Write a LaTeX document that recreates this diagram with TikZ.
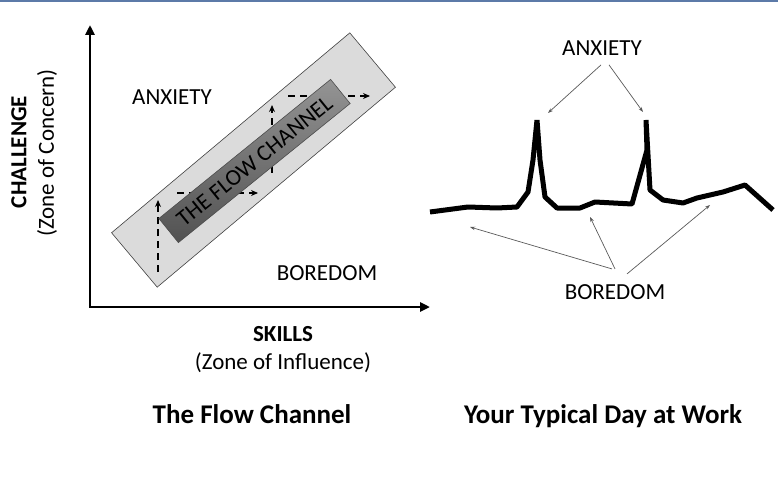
\documentclass[tikz,border=0pt]{standalone}
\usepackage{fontspec}
\setmainfont{Carlito}
\usetikzlibrary{arrows.meta}
\definecolor{topblue}{RGB}{92,122,168}
\definecolor{bandgray}{RGB}{219,219,219}

\begin{document}
\begin{tikzpicture}[x=1pt,y=-1pt,
  axisline/.style={line width=2.6pt,{Triangle[length=10pt,width=9pt]}-{Triangle[length=10pt,width=9pt]}},
  flow/.style={line width=1.9pt,dash pattern=on 7pt off 5pt,-{Stealth[length=7pt,width=6pt]}},
  txt/.style={font=\fontsize{23}{25}\selectfont},
  headtxt/.style={font=\bfseries\fontsize{23}{25}\selectfont},
  bigtxt/.style={font=\bfseries\fontsize{27}{29}\selectfont},
  pointer/.style={draw=black!65,line width=0.7pt,-{Stealth[length=5pt,width=3.5pt]}}]
\useasboundingbox (0,0) rectangle (778,489);
\fill[topblue] (0,0) rectangle (778,2);

\node[draw=black!75,fill=bandgray,line width=0.6pt,minimum width=311pt,minimum height=71pt,inner sep=0,rotate=40] (band) at (253.5,160) {};

\draw[flow] (158,272) -- (158,200);
\draw[flow] (177,193) -- (258,193);
\draw[flow] (272,173) -- (272,105);
\draw[flow] (288,96) -- (370,96);

\node[draw=black!70,top color=black!42,bottom color=black!68,line width=0.6pt,minimum width=221pt,minimum height=31pt,inner sep=0,rotate=39,txt] (channel) at (254.5,161) {THE FLOW CHANNEL};

\coordinate (O) at (90,307);
\coordinate (ytop) at (90,25);
\coordinate (xend) at (430,307);
\draw[axisline] (ytop) -- (O) -- (xend);

\node[txt] (anxL) at (172,97) {ANXIETY};
\node[txt] (borL) at (327,273) {BOREDOM};
\node[headtxt,rotate=90] (chal) at (19,152) {CHALLENGE};
\node[txt,rotate=90] (concern) at (47,153) {(Zone of Concern)};
\node[headtxt,anchor=base] (skills) at (283,341) {SKILLS};
\node[txt,anchor=base] (infl) at (283,369) {(Zone of Influence)};
\node[bigtxt,anchor=base] (flowtitle) at (252,423) {The Flow Channel};
\node[bigtxt,anchor=base] (daytitle) at (603,423) {Your Typical Day at Work};

\draw[line width=5pt,line join=bevel] (430,212) -- (468,207) -- (497,208) -- (517,207) -- (528,192) -- (533,160) -- (537,120) -- (540,160) -- (545,197) -- (557,208) -- (580,208) -- (595,202) -- (632,204) -- (647,150) -- (646,120) -- (650,190) -- (663,200) -- (683,203) -- (697,198) -- (723,192) -- (745,185) -- (773,210);

\coordinate (peak1) at (548,113);
\coordinate (peak2) at (643,112);
\coordinate (dip1) at (470,227);
\coordinate (dip2) at (590,217);
\coordinate (dip3) at (710,205);

\node[txt] (anxR) at (602,48) {ANXIETY};
\node[txt] (borR) at (615,292) {BOREDOM};
\draw[pointer] ([shift={(-1,6)}]anxR.south) -- (peak1);
\draw[pointer] ([shift={(7,6)}]anxR.south) -- (peak2);
\draw[pointer] ([shift={(-3,-12)}]borR.north) -- (dip1);
\draw[pointer] ([shift={(0,-12)}]borR.north) -- (dip2);
\draw[pointer] ([shift={(12,-7)}]borR.north) -- (dip3);
\end{tikzpicture}
\end{document}
